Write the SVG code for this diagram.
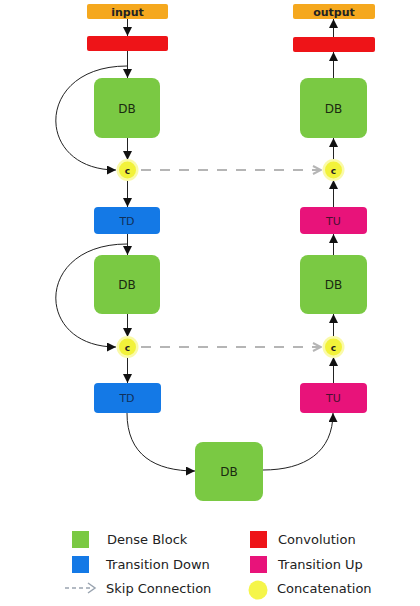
<svg xmlns="http://www.w3.org/2000/svg" width="420" height="606" viewBox="0 0 420 606">
<style>
text{font-family:"DejaVu Sans","Liberation Sans",sans-serif;}
.io{fill:#F5A81E;}
.conv{fill:#EE1418;}
.db{fill:#7AC943;}
.td{fill:#1479E6;}
.tu{fill:#E8137A;}
.lbl{font-size:12px;fill:#1a2a10;text-anchor:middle;}
.lblb{font-size:11px;fill:#10305a;text-anchor:middle;}
.lblt{font-size:11px;fill:#4a1030;text-anchor:middle;}
.iot{font-size:11px;font-weight:bold;fill:#222;text-anchor:middle;}
.ct{font-size:9px;font-weight:bold;fill:#222;text-anchor:middle;}
.glow{fill:#FAFAA8;}
.cc{fill:#F2F23A;}
.edge{fill:none;stroke:#222;stroke-width:1;}
.skip{fill:none;stroke:#B5B5B5;stroke-width:2;stroke-dasharray:10 9;}
.leg{font-size:13px;fill:#222;}
</style>
<defs>
<marker id="ah" viewBox="0 0 10 10" refX="10" refY="5" markerWidth="9" markerHeight="9" markerUnits="userSpaceOnUse" orient="auto">
<path d="M0,0 L10,5 L0,10 z" fill="#111"/>
</marker>
<marker id="sh" viewBox="0 0 10 10" refX="9" refY="5" markerWidth="10" markerHeight="10" markerUnits="userSpaceOnUse" orient="auto">
<path d="M1,1 L9,5 L1,9" fill="none" stroke="#B5B5B5" stroke-width="2"/>
</marker>
</defs>

<g id="connectors">
<line class="edge" x1="127.5" y1="19" x2="127.5" y2="36" marker-end="url(#ah)"/>
<line class="edge" x1="127.5" y1="51" x2="127.5" y2="78" marker-end="url(#ah)"/>
<line class="edge" x1="127.5" y1="138" x2="127.5" y2="160" marker-end="url(#ah)"/>
<path class="edge" d="M127,66 C34,66 34,170 116,170" marker-end="url(#ah)"/>
<line class="edge" x1="127.5" y1="180" x2="127.5" y2="207" marker-end="url(#ah)"/>
<line class="edge" x1="127.5" y1="234" x2="127.5" y2="255" marker-end="url(#ah)"/>
<line class="edge" x1="127.5" y1="314" x2="127.5" y2="337" marker-end="url(#ah)"/>
<path class="edge" d="M127,244 C34,244 34,347 116,347" marker-end="url(#ah)"/>
<line class="edge" x1="127.5" y1="357" x2="127.5" y2="383" marker-end="url(#ah)"/>
<path class="edge" d="M127,413 C127,455 155,471 195,471" marker-end="url(#ah)"/>
<path class="edge" d="M263,470 C305,470 333,452 333,413" marker-end="url(#ah)"/>
<line class="edge" x1="333.5" y1="383" x2="333.5" y2="357" marker-end="url(#ah)"/>
<line class="edge" x1="333.5" y1="337" x2="333.5" y2="314" marker-end="url(#ah)"/>
<line class="edge" x1="333.5" y1="255" x2="333.5" y2="234" marker-end="url(#ah)"/>
<line class="edge" x1="333.5" y1="207" x2="333.5" y2="180" marker-end="url(#ah)"/>
<line class="edge" x1="333.5" y1="160" x2="333.5" y2="138" marker-end="url(#ah)"/>
<line class="edge" x1="333.5" y1="78" x2="333.5" y2="52" marker-end="url(#ah)"/>
<line class="edge" x1="333.5" y1="37" x2="333.5" y2="19" marker-end="url(#ah)"/>
<line class="skip" x1="141" y1="170" x2="321" y2="170" marker-end="url(#sh)"/>
<line class="skip" x1="141" y1="347" x2="321" y2="347" marker-end="url(#sh)"/>
</g>

<g id="input"><rect class="io" x="87" y="4" width="81" height="15" rx="2"/><text class="iot" x="127.5" y="15.5">input</text></g>
<g id="conv-in"><rect class="conv" x="87" y="36" width="81" height="15" rx="2"/></g>
<g id="db1"><rect class="db" x="94" y="78" width="66" height="60" rx="8"/><text class="lbl" x="127" y="112.5">DB</text></g>
<g id="c1"><circle class="glow" cx="127.5" cy="170" r="11"/><circle class="cc" cx="127.5" cy="170" r="8.5"/><text class="ct" x="127.5" y="173.5">c</text></g>
<g id="td1"><rect class="td" x="94" y="207" width="66" height="27" rx="4"/><text class="lblb" x="127" y="224.5">TD</text></g>
<g id="db2"><rect class="db" x="94" y="255" width="66" height="59" rx="8"/><text class="lbl" x="127" y="289">DB</text></g>
<g id="c2"><circle class="glow" cx="127.5" cy="347" r="11"/><circle class="cc" cx="127.5" cy="347" r="8.5"/><text class="ct" x="127.5" y="350.5">c</text></g>
<g id="td2"><rect class="td" x="94" y="383" width="67" height="30" rx="4"/><text class="lblb" x="127" y="401.5">TD</text></g>
<g id="db3"><rect class="db" x="195" y="442" width="68" height="59" rx="8"/><text class="lbl" x="229" y="476">DB</text></g>
<g id="tu2"><rect class="tu" x="300" y="383" width="67" height="30" rx="4"/><text class="lblt" x="333.5" y="401.5">TU</text></g>
<g id="c4"><circle class="glow" cx="333.5" cy="347" r="11"/><circle class="cc" cx="333.5" cy="347" r="8.5"/><text class="ct" x="333.5" y="350.5">c</text></g>
<g id="db4"><rect class="db" x="300" y="255" width="67" height="59" rx="8"/><text class="lbl" x="333.5" y="289">DB</text></g>
<g id="tu1"><rect class="tu" x="300" y="207" width="67" height="27" rx="4"/><text class="lblt" x="333.5" y="224.5">TU</text></g>
<g id="c3"><circle class="glow" cx="333.5" cy="170" r="11"/><circle class="cc" cx="333.5" cy="170" r="8.5"/><text class="ct" x="333.5" y="173.5">c</text></g>
<g id="db5"><rect class="db" x="300" y="78" width="67" height="60" rx="8"/><text class="lbl" x="333.5" y="112.5">DB</text></g>
<g id="conv-out"><rect class="conv" x="293" y="37" width="82" height="15" rx="2"/></g>
<g id="output"><rect class="io" x="293" y="4" width="82" height="15" rx="2"/><text class="iot" x="334" y="15.5">output</text></g>

<g id="legend">
<rect class="db" x="72" y="531" width="17" height="17"/>
<text class="leg" x="107" y="544">Dense Block</text>
<rect class="td" x="72" y="556" width="17" height="17"/>
<text class="leg" x="106" y="569">Transition Down</text>
<line x1="65" y1="588" x2="93" y2="588" stroke="#9AA4B0" stroke-width="1.5" stroke-dasharray="4 3"/>
<path d="M88,583 L95,588 L88,593" fill="none" stroke="#9AA4B0" stroke-width="1.5"/>
<text class="leg" x="106" y="593">Skip Connection</text>
<rect class="conv" x="250" y="531" width="17" height="17"/>
<text class="leg" x="278" y="544">Convolution</text>
<rect class="tu" x="250" y="556" width="17" height="17"/>
<text class="leg" x="278" y="569">Transition Up</text>
<circle cx="258" cy="590" r="9.5" fill="#F5F54A"/>
<text class="leg" x="277" y="593">Concatenation</text>
</g>
</svg>
